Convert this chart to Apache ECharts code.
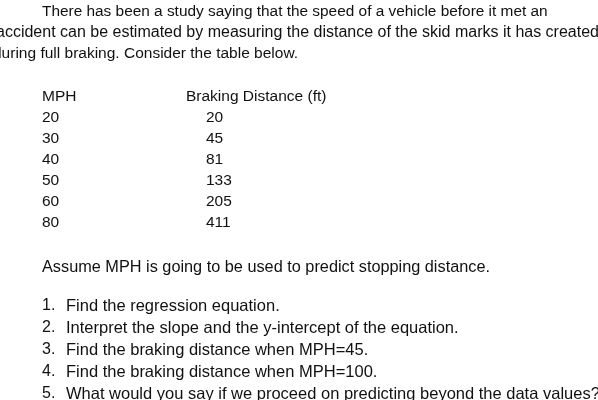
<!DOCTYPE html>
<html><head><meta charset="utf-8">
<script src="https://cdn.jsdelivr.net/npm/echarts@6/dist/echarts.min.js"></script>
<style>html,body{margin:0;padding:0;background:#fff}#c{width:598px;height:400px}</style>
</head><body><div id="c"></div>
<script>
const introLines = [
  "There has been a study saying that the speed of a vehicle before it met an",
  "accident can be estimated by measuring the distance of the skid marks it has created",
  "during full braking. Consider the table below."
];
const headers = ["MPH", "Braking Distance (ft)"];
const mph = [20, 30, 40, 50, 60, 80];
const distance = [20, 45, 81, 133, 205, 411];
const assumption = "Assume MPH is going to be used to predict stopping distance.";
const questions = [
  "Find the regression equation.",
  "Interpret the slope and the y-intercept of the equation.",
  "Find the braking distance when MPH=45.",
  "Find the braking distance when MPH=100.",
  "What would you say if we proceed on predicting beyond the data values?"
];

function f(sz){ return sz + 'px "Liberation Sans", Arial, sans-serif'; }
const g = [];
function t(x, y, s, sz) {
  g.push({type:'text', x:x, y:y, style:{text:s, font:f(sz||15.5), fill:'#111', textVerticalAlign:'middle'}});
}
const introX = [42, -4, -7], introY = [12, 33, 54], introSz = [15.4, 16, 15.5];
introLines.forEach((s,i)=>t(introX[i], introY[i], s, introSz[i]));
t(42, 97, headers[0]); t(186, 97, headers[1]);
mph.forEach((m,i)=>{ t(42, 118 + 21*i, String(m)); t(206, 118 + 21*i, String(distance[i])); });
t(42, 268, assumption, 16.3);
questions.forEach((q,i)=>{ t(42, 306 + 22*i, (i+1)+'.', 16); t(66, 306 + 22*i, q, 16.5); });

const chart = echarts.init(document.getElementById('c'));
chart.setOption({animation:false, graphic:g});
</script></body></html>
